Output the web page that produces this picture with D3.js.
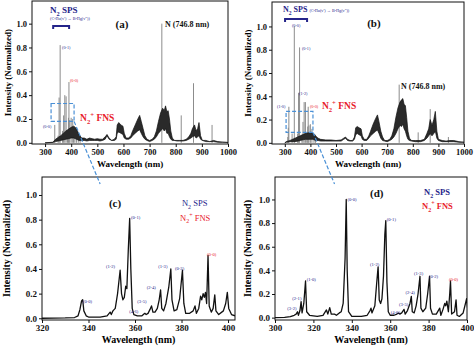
<!DOCTYPE html>
<html>
<head>
<meta charset="utf-8">
<script src="https://cdn.jsdelivr.net/npm/d3@7/dist/d3.min.js"></script>
<style>
    body { margin: 0; background: #fff; }
    text { font-family: "Liberation Serif", "Times New Roman", serif; }
</style>
</head>
<body>
<div id="chart"></div>
<script>
// Spectrum data: [wavelength (nm), normalized intensity]

// Panel (a) - strong emission lines and band envelope [nm, low, high]
var aLines = [[337.1, 0.15], [350, 0.06], [353.7, 0.38], [357.7, 0.82], [367, 0.10], [371, 0.23],
    [375.5, 0.40], [380.5, 0.39], [385.8, 0.10], [389.5, 0.21], [391.4, 0.51], [394.3, 0.19],
    [399.8, 0.21], [405.9, 0.20], [409, 0.12], [414, 0.10], [420, 0.09], [427, 0.08], [434, 0.05],
    [746.8, 1.0], [821, 0.23], [868, 0.50], [939, 0.15]];
var aBands = [[300, 0, 0], [330, 0.003, 0.005], [340, 0.01, 0.03], [360, 0.02, 0.06], [380, 0.03, 0.10],
    [400, 0.04, 0.13], [410, 0.04, 0.14], [420, 0.03, 0.12], [430, 0.02, 0.07], [440, 0.02, 0.04],
    [450, 0.02, 0.04], [460, 0.015, 0.03], [470, 0.02, 0.04], [480, 0.02, 0.035], [490, 0.02, 0.03],
    [500, 0.02, 0.035], [510, 0.015, 0.03], [520, 0.02, 0.03], [530, 0.03, 0.05], [537, 0.06, 0.07],
    [545, 0.03, 0.04], [555, 0.02, 0.02], [565, 0.02, 0.03], [572, 0.03, 0.05], [576, 0.08, 0.15],
    [582, 0.09, 0.17], [590, 0.08, 0.15], [598, 0.07, 0.14], [603, 0.04, 0.08], [610, 0.03, 0.04],
    [620, 0.03, 0.04], [628, 0.04, 0.06], [635, 0.06, 0.10], [645, 0.08, 0.15], [655, 0.10, 0.20],
    [662, 0.11, 0.23], [668, 0.08, 0.18], [675, 0.05, 0.12], [682, 0.03, 0.06], [690, 0.02, 0.03],
    [700, 0.01, 0.02], [710, 0.02, 0.03], [718, 0.03, 0.05], [726, 0.05, 0.10], [734, 0.08, 0.18],
    [742, 0.10, 0.25], [750, 0.12, 0.29], [756, 0.10, 0.27], [761, 0.12, 0.31], [766, 0.08, 0.26],
    [771, 0.08, 0.27], [776, 0.05, 0.20], [781, 0.03, 0.10], [787, 0.02, 0.04], [795, 0.02, 0.02],
    [805, 0.015, 0.02], [815, 0.015, 0.02], [828, 0.015, 0.02], [840, 0.02, 0.03], [850, 0.03, 0.05],
    [858, 0.04, 0.08], [864, 0.05, 0.12], [872, 0.06, 0.15], [878, 0.04, 0.10], [884, 0.05, 0.12],
    [889, 0.06, 0.17], [895, 0.03, 0.06], [902, 0.02, 0.02], [915, 0.01, 0.02], [930, 0.01, 0.01],
    [945, 0.01, 0.02], [960, 0.005, 0.01], [980, 0.005, 0.005], [1000, 0.003, 0.003]];

// Panel (b)
var bLines = [[311.7, 0.05], [313.6, 0.13], [315.9, 0.31], [328.5, 0.08], [337.1, 1.0], [350, 0.08],
    [353.7, 0.43], [357.7, 0.82], [367, 0.07], [371, 0.18], [375.5, 0.35], [380.5, 0.35], [385.8, 0.08],
    [389.5, 0.14], [391.4, 0.31], [394.3, 0.15], [399.8, 0.16], [405.9, 0.12], [414, 0.08], [420, 0.07],
    [746.8, 0.50], [821, 0.09], [868, 0.29], [939, 0.05]];
var bBands = [[300, 0, 0], [305, 0.005, 0.01], [320, 0.01, 0.02], [340, 0.01, 0.04], [360, 0.02, 0.06],
    [380, 0.03, 0.08], [400, 0.03, 0.09], [410, 0.03, 0.08], [420, 0.02, 0.06], [430, 0.02, 0.04],
    [440, 0.015, 0.03], [460, 0.015, 0.025], [480, 0.015, 0.025], [500, 0.015, 0.02], [520, 0.015, 0.025],
    [530, 0.03, 0.04], [537, 0.04, 0.05], [545, 0.02, 0.03], [555, 0.015, 0.02], [565, 0.015, 0.02],
    [572, 0.03, 0.05], [577, 0.07, 0.13], [583, 0.08, 0.14], [590, 0.07, 0.13], [598, 0.06, 0.12],
    [603, 0.03, 0.06], [610, 0.02, 0.03], [620, 0.02, 0.03], [628, 0.04, 0.06], [635, 0.06, 0.10],
    [645, 0.08, 0.16], [655, 0.10, 0.21], [662, 0.11, 0.24], [668, 0.08, 0.18], [675, 0.04, 0.10],
    [682, 0.02, 0.05], [690, 0.015, 0.02], [700, 0.01, 0.02], [710, 0.02, 0.03], [718, 0.03, 0.06],
    [726, 0.05, 0.12], [734, 0.08, 0.22], [742, 0.12, 0.30], [750, 0.15, 0.35], [756, 0.14, 0.37],
    [761, 0.16, 0.38], [766, 0.12, 0.33], [771, 0.10, 0.32], [776, 0.06, 0.22], [781, 0.03, 0.10],
    [787, 0.02, 0.04], [795, 0.015, 0.02], [810, 0.01, 0.02], [830, 0.01, 0.02], [845, 0.02, 0.03],
    [855, 0.04, 0.08], [862, 0.06, 0.12], [868, 0.08, 0.20], [875, 0.06, 0.15], [882, 0.08, 0.20],
    [888, 0.10, 0.27], [894, 0.04, 0.10], [900, 0.02, 0.03], [915, 0.01, 0.02], [930, 0.01, 0.015],
    [945, 0.01, 0.02], [960, 0.01, 0.02], [980, 0.005, 0.01], [1000, 0.005, 0.005]];

// Panel (c) - zoom 320-403 nm
var cSpectrum = [[320, 0], [330, 0.003], [334, 0.006], [335.5, 0.02], [336.3, 0.07], [337, 0.14],
    [337.5, 0.15], [338, 0.06], [339, 0.02], [340, 0.01], [345, 0.01], [348, 0.02], [349.3, 0.05],
    [349.8, 0.03], [350.5, 0.06], [351.5, 0.08], [352.5, 0.2], [353.6, 0.39], [354.2, 0.2], [354.8, 0.15],
    [355.4, 0.17], [356, 0.26], [356.5, 0.24], [357.1, 0.55], [357.7, 0.81], [358.2, 0.4], [358.8, 0.08],
    [359.5, 0.03], [361, 0.02], [363, 0.02], [364.2, 0.04], [364.8, 0.03], [365.6, 0.04], [366.4, 0.07],
    [367.1, 0.10], [367.7, 0.05], [368.6, 0.05], [369.6, 0.08], [370.4, 0.15], [371, 0.23], [371.5, 0.08],
    [372.3, 0.06], [373.3, 0.12], [374.5, 0.25], [375.4, 0.40], [375.9, 0.15], [376.8, 0.06],
    [378, 0.07], [379.2, 0.16], [380.4, 0.39], [381, 0.12], [381.8, 0.04], [383.5, 0.04], [385, 0.06],
    [385.8, 0.10], [386.4, 0.04], [387.4, 0.08], [388.2, 0.18], [388.7, 0.15], [389.3, 0.20],
    [389.8, 0.17], [390.3, 0.21], [390.8, 0.12], [391.4, 0.51], [391.9, 0.1], [392.8, 0.05],
    [393.6, 0.08], [394.3, 0.19], [394.8, 0.06], [396, 0.03], [398, 0.06], [399, 0.12], [399.7, 0.21],
    [400.3, 0.08], [401.5, 0.03], [403, 0.02]];

// Panel (d) - zoom 300-400 nm
var dSpectrum = [[300, 0], [305, 0.003], [308, 0.008], [310, 0.02], [311, 0.03], [311.7, 0.05],
    [312.2, 0.02], [313, 0.06], [313.6, 0.135], [314.1, 0.04], [315, 0.12], [315.9, 0.31], [316.5, 0.05],
    [318, 0.02], [322, 0.01], [325, 0.02], [326.8, 0.065], [327.5, 0.03], [328.5, 0.085], [329.3, 0.03],
    [331, 0.03], [332, 0.02], [333.5, 0.04], [334.5, 0.05], [335.5, 0.12], [336.5, 0.5], [337.1, 1.0],
    [337.6, 0.4], [338.3, 0.05], [340, 0.01], [345, 0.01], [348, 0.02], [349.5, 0.06], [350, 0.08],
    [350.5, 0.04], [352, 0.1], [353, 0.3], [353.7, 0.43], [354.3, 0.15], [355, 0.12], [355.7, 0.16],
    [356.5, 0.35], [357.2, 0.7], [357.7, 0.82], [358.3, 0.3], [359, 0.05], [360, 0.02], [362, 0.02],
    [363.5, 0.03], [364.2, 0.04], [365, 0.03], [366, 0.04], [367.2, 0.07], [367.8, 0.03], [369, 0.06],
    [370.3, 0.12], [371, 0.18], [371.5, 0.05], [372.5, 0.04], [373.5, 0.1], [374.5, 0.2], [375.5, 0.35],
    [376, 0.08], [377, 0.05], [378.5, 0.08], [379.5, 0.2], [380.5, 0.35], [381, 0.08], [382, 0.03],
    [384, 0.03], [385.8, 0.08], [386.4, 0.02], [387.5, 0.07], [388.4, 0.12], [388.9, 0.1], [389.5, 0.14],
    [390.3, 0.05], [391, 0.2], [391.4, 0.31], [392, 0.03], [393.5, 0.05], [394.3, 0.15], [394.8, 0.02],
    [396, 0.01], [398, 0.04], [399.8, 0.16], [400.5, 0.05]];

// Band assignments: [label, nm, intensity, system]  (s = N2 SPS, f = N2+ FNS)
var aPeakLabels = [["(0-1)", 364.8, 0.80, "s"], ["(0-0)", 395, 0.52, "f"], ["(0-0)", 292, 0.14, "s"]];
var bPeakLabels = [["(0-0)", 328, 1.01, "s"], ["(0-1)", 367, 0.81, "s"], ["(1-2)", 355.5, 0.42, "s"],
    ["(1-0)", 269.5, 0.31, "s"], ["(0-0)", 398, 0.31, "f"]];
var cPeakLabels = [["(0-0)", 337.6, 0.14, "s"], ["(0-1)", 358.3, 0.816, "s"], ["(1-2)", 347.5, 0.42, "s"],
    ["(4-6)", 357.5, 0.054, "s"], ["(3-5)", 361, 0.135, "s"], ["(2-4)", 365, 0.25, "s"],
    ["(1-3)", 370, 0.42, "s"], ["(0-2)", 377.2, 0.40, "s"], ["(0-0)", 391, 0.52, "f"]];
var dPeakLabels = [["(0-0)", 337.7, 1.0, "s"], ["(0-1)", 358.2, 0.83, "s"], ["(1-2)", 349.5, 0.45, "s"],
    ["(1-3)", 372.4, 0.37, "s"], ["(0-2)", 380.2, 0.35, "s"], ["(0-0)", 390.6, 0.32, "f"],
    ["(2-4)", 368, 0.21, "s"], ["(3-5)", 364.6, 0.107, "s"], ["(4-6)", 360.3, 0.04, "s"],
    ["(1-0)", 316.5, 0.32, "s"], ["(2-1)", 309, 0.16, "s"], ["(3-2)", 306.4, 0.08, "s"]];

var wideTicks = [300, 400, 500, 600, 700, 800, 900, 1000];
var cTicks = [320, 340, 360, 380, 400];
var dTicks = [300, 320, 340, 360, 380, 400];
var yTicks = [0, 0.2, 0.4, 0.6, 0.8, 1.0];

var navy = "#24248a";
var red = "#e8202a";
var boxBlue = "#4a90d6";

var svg = d3.select("#chart")
    .append("svg")
    .attr("width", 474)
    .attr("height", 347)
    .style("display", "block");

// Build one framed panel with its axes
function makePanel(p) {
    var g = svg.append("g")
        .attr("transform", `translate(${p.left}, ${p.top})`);

    var x = d3.scaleLinear().domain(p.xDomain).range([0, p.width]);
    var y = d3.scaleLinear().domain(p.yDomain).range([p.height, 0]);

    g.append("clipPath")
        .attr("id", "clip-" + p.id)
        .append("rect")
        .attr("width", p.width)
        .attr("height", p.height);

    var plot = g.append("g").attr("clip-path", `url(#clip-${p.id})`);

    var xAxis = g.append("g")
        .attr("transform", `translate(0, ${p.height})`)
        .call(d3.axisBottom(x).tickValues(p.xTicks).tickSize(3).tickPadding(2).tickFormat(d3.format("d")));

    var yAxis = g.append("g")
        .call(d3.axisLeft(y).tickValues(yTicks).tickSize(3).tickPadding(2).tickFormat(d3.format(".1f")));

    [xAxis, yAxis].forEach(function(ax) {
        ax.select(".domain").remove();
        ax.selectAll("text")
            .style("font-family", "Liberation Serif")
            .style("font-weight", "bold")
            .style("font-size", p.tickFont + "px")
            .attr("fill", "#111");
        ax.selectAll("line").attr("stroke", "#111");
    });

    // frame
    g.append("rect")
        .attr("width", p.width)
        .attr("height", p.height)
        .attr("fill", "none")
        .attr("stroke", "#111")
        .attr("stroke-width", 1);

    g.append("text")
        .attr("x", p.width / 2)
        .attr("y", p.height + p.xTitleGap)
        .attr("text-anchor", "middle")
        .style("font-weight", "bold")
        .style("font-size", p.titleFont + "px")
        .text("Wavelength (nm)");

    g.append("text")
        .attr("transform", `translate(${-p.yTitleGap}, ${p.height / 2}) rotate(-90)`)
        .attr("text-anchor", "middle")
        .style("font-weight", "bold")
        .style("font-size", p.titleFont + "px")
        .text("Intensity (Normalized)");

    return { g: g, plot: plot, x: x, y: y, p: p };
}

// Survey spectrum: gray line sticks plus dark band envelope
function drawSurvey(panel, lines, bands) {
    panel.plot.selectAll(".stick")
        .data(lines)
        .enter()
        .append("line")
        .attr("x1", d => panel.x(d[0]))
        .attr("x2", d => panel.x(d[0]))
        .attr("y1", panel.y(0))
        .attr("y2", d => panel.y(d[1]))
        .attr("stroke", "#8c8c8c")
        .attr("stroke-width", 1);

    var area = d3.area()
        .x(d => panel.x(d[0]))
        .y0(d => panel.y(d[1]))
        .y1(d => panel.y(d[2]));

    panel.plot.append("path")
        .datum(bands)
        .attr("d", area)
        .attr("fill", "#2a2a2a")
        .attr("stroke", "#111")
        .attr("stroke-width", 0.7)
        .attr("stroke-linejoin", "round");
}

function drawZoom(panel, spectrum) {
    var line = d3.line()
        .x(d => panel.x(d[0]))
        .y(d => panel.y(d[1]));

    panel.plot.append("path")
        .datum(spectrum)
        .attr("d", line)
        .attr("fill", "none")
        .attr("stroke", "#111")
        .attr("stroke-width", 1.3)
        .attr("stroke-linejoin", "round");
}

function drawPeakLabels(panel, labels, size) {
    panel.g.selectAll(".peak")
        .data(labels)
        .enter()
        .append("text")
        .attr("x", d => panel.x(d[1]))
        .attr("y", d => panel.y(d[2]))
        .attr("dominant-baseline", "central")
        .style("font-size", size + "px")
        .attr("fill", d => d[3] === "f" ? red : navy)
        .text(d => d[0]);
}

// "N2 SPS" / "N2+ FNS" with sub and superscripts
function addSpecies(panel, wl, v, ion, size, bold, color) {
    var t = panel.g.append("text")
        .attr("x", panel.x(wl))
        .attr("y", panel.y(v))
        .style("font-size", size + "px")
        .style("font-weight", bold ? "bold" : "normal")
        .attr("fill", color);
    t.append("tspan").text("N");
    t.append("tspan").attr("dy", size * 0.3).style("font-size", (size * 0.7) + "px").text("2");
    if (ion) {
        t.append("tspan").attr("dy", -size * 0.75).style("font-size", (size * 0.7) + "px").text("+");
        t.append("tspan").attr("dy", size * 0.45).text(" FNS");
    } else {
        t.append("tspan").attr("dy", -size * 0.3).text(" SPS");
    }
    return t;
}

function addText(panel, wl, v, str, size, anchor, color) {
    return panel.g.append("text")
        .attr("x", panel.x(wl))
        .attr("y", panel.y(v))
        .attr("text-anchor", anchor)
        .style("font-size", size + "px")
        .style("font-weight", "bold")
        .attr("fill", color)
        .text(str);
}

function addBracket(panel, wl0, wl1, v, drop) {
    var x0 = panel.x(wl0), x1 = panel.x(wl1);
    var y0 = panel.y(v), y1 = panel.y(v - drop);
    panel.g.append("path")
        .attr("d", `M${x0},${y1}V${y0}H${x1}V${y1}`)
        .attr("fill", "none")
        .attr("stroke", navy)
        .attr("stroke-width", 2);
}

function addTransition(panel, wl, v) {
    panel.g.append("text")
        .attr("x", panel.x(wl))
        .attr("y", panel.y(v))
        .attr("dominant-baseline", "central")
        .style("font-size", "4.2px")
        .attr("fill", navy)
        .text("(C\u00b3\u03a0u(v\u2032) \u2192 B\u00b3\u03a0g(v\u2033))");
}

function addBox(panel, wl0, wl1, v0, v1) {
    panel.g.append("rect")
        .attr("x", panel.x(wl0))
        .attr("y", panel.y(v1))
        .attr("width", panel.x(wl1) - panel.x(wl0))
        .attr("height", panel.y(v0) - panel.y(v1))
        .attr("fill", "none")
        .attr("stroke", boxBlue)
        .attr("stroke-width", 1.2)
        .attr("stroke-dasharray", "4,2");
}

// Leader line from a survey box corner to the zoomed panel
function addLeader(from, wl, v, to, wlTo) {
    var x0 = from.p.left + from.x(wl), y0 = from.p.top + from.y(v);
    var x1 = to.p.left + to.x(wlTo), y1 = to.p.top + 7;
    svg.append("line")
        .attr("x1", x0).attr("y1", y0)
        .attr("x2", x1).attr("y2", y1)
        .attr("stroke", boxBlue)
        .attr("stroke-width", 1.2)
        .attr("stroke-dasharray", "4,2");
}

var pa = makePanel({ id: "a", left: 32, top: 1, width: 196, height: 143, xDomain: [250, 1000],
    yDomain: [-0.01, 1.19], xTicks: wideTicks, tickFont: 8.5, titleFont: 9, xTitleGap: 23, yTitleGap: 21 });
var pb = makePanel({ id: "b", left: 272, top: 2, width: 192, height: 142, xDomain: [250, 1000],
    yDomain: [-0.01, 1.21], xTicks: wideTicks, tickFont: 8.5, titleFont: 9, xTitleGap: 23, yTitleGap: 21 });
var pc = makePanel({ id: "c", left: 42, top: 177, width: 193, height: 143, xDomain: [320, 403],
    yDomain: [-0.014, 1.146], xTicks: cTicks, tickFont: 9, titleFont: 10, xTitleGap: 23, yTitleGap: 32 });
var pd = makePanel({ id: "d", left: 275, top: 177, width: 192, height: 143, xDomain: [300, 400],
    yDomain: [-0.02, 1.19], xTicks: dTicks, tickFont: 9, titleFont: 10, xTitleGap: 23, yTitleGap: 24 });

drawSurvey(pa, aLines, aBands);
drawSurvey(pb, bLines, bBands);
drawZoom(pc, cSpectrum);
drawZoom(pd, dSpectrum);

drawPeakLabels(pa, aPeakLabels, 4.2);
drawPeakLabels(pb, bPeakLabels, 4.2);
drawPeakLabels(pc, cPeakLabels, 4.6);
drawPeakLabels(pd, dPeakLabels, 4.6);

// Panel (a) annotations
addSpecies(pa, 319, 1.09, false, 9, true, navy);
addTransition(pa, 319, 1.045);
addBracket(pa, 331, 392, 0.98, 0.025);
addText(pa, 594, 0.963, "(a)", 11, "middle", "#111");
addText(pa, 759, 0.97, "N (746.8 nm)", 8, "start", "#111");
addSpecies(pa, 434, 0.18, true, 9.5, true, red);
addBox(pa, 323, 411, 0.18, 0.33);

// Panel (b) annotations
addSpecies(pb, 293, 1.12, false, 8, true, navy);
addTransition(pb, 396, 1.14);
addBracket(pb, 301, 387, 1.064, 0.025);
addText(pb, 648, 0.995, "(b)", 11, "middle", "#111");
addText(pb, 754, 0.46, "N (746.8 nm)", 8, "start", "#111");
addSpecies(pb, 445, 0.29, true, 9.5, true, red);
addBox(pb, 305, 410, 0.09, 0.27);

// Panel (c) and (d) legends
addText(pc, 351.4, 0.90, "(c)", 11, "middle", "#111");
addSpecies(pc, 380.2, 0.91, false, 8.5, false, navy);
addSpecies(pc, 379.4, 0.79, true, 8.5, false, red);
addText(pd, 353, 1.02, "(d)", 11, "middle", "#111");
addSpecies(pd, 377.6, 1.035, false, 8.5, true, navy);
addSpecies(pd, 376.6, 0.918, true, 8.5, true, red);

addLeader(pa, 411, 0.18, pc, 345);
addLeader(pb, 410, 0.09, pd, 331);
</script>
</body>
</html>
